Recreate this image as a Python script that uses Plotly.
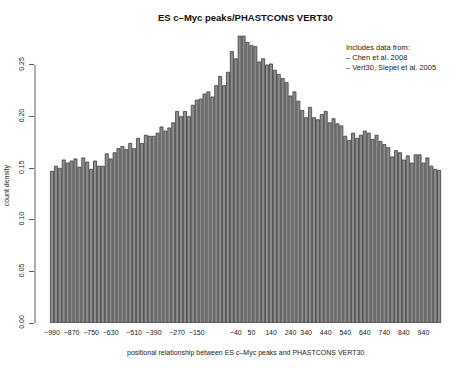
import plotly.graph_objects as go

# ---- data -------------------------------------------------------------
density = [
    0.147, 0.152, 0.150, 0.158, 0.155, 0.157, 0.159, 0.151, 0.160, 0.156,
    0.149, 0.157, 0.152, 0.152, 0.164, 0.159, 0.165, 0.169, 0.171, 0.168,
    0.174, 0.169, 0.179, 0.174, 0.182, 0.181, 0.181, 0.184, 0.190, 0.186,
    0.189, 0.194, 0.205, 0.200, 0.205, 0.200, 0.211, 0.216, 0.217, 0.222,
    0.224, 0.219, 0.230, 0.239, 0.230, 0.243, 0.263, 0.256, 0.278, 0.278,
    0.272, 0.269, 0.268, 0.253, 0.256, 0.250, 0.251, 0.245, 0.241, 0.237,
    0.233, 0.220, 0.224, 0.215, 0.206, 0.199, 0.209, 0.199, 0.197, 0.202,
    0.205, 0.194, 0.198, 0.193, 0.191, 0.181, 0.177, 0.184, 0.179, 0.182,
    0.186, 0.184, 0.178, 0.182, 0.176, 0.173, 0.170, 0.161, 0.167, 0.165,
    0.158, 0.162, 0.155, 0.163, 0.163, 0.155, 0.160, 0.152, 0.149, 0.148,
]
bar_index = list(range(len(density)))

tick_positions = [0, 5, 10, 15, 21, 26, 32, 37, 47, 51, 56, 61, 65, 70, 75, 80, 85, 90, 95]
tick_labels = ["−990", "−870", "−750", "−630", "−510", "−390", "−270", "−150", "−40",
               "50", "140", "240", "340", "440", "540", "640", "740", "840", "940"]

y_ticks = [0.00, 0.05, 0.10, 0.15, 0.20, 0.25]
y_tick_labels = ["0.00", "0.05", "0.10", "0.15", "0.20", "0.25"]

title_text = "ES c–Myc peaks/PHASTCONS VERT30"
x_title = "positional relationship between ES c–Myc peaks and PHASTCONS VERT30"
y_title = "count density"
note_lines = ["Includes data from:", "– Chen et al. 2008", "– Vert30, Siepel et al. 2005"]

# ---- figure -----------------------------------------------------------
FONT = "Liberation Sans, Arial, sans-serif"
TXT = "#222222"

fig = go.Figure(
    go.Bar(
        x=bar_index,
        y=density,
        marker=dict(color="#8c8c8c", line=dict(color="#2e2e2e", width=0.7)),
        width=0.8,
        hoverinfo="skip",
    )
)

fig.update_layout(
    width=474,
    height=368,
    margin=dict(l=35, r=22, t=30, b=45, pad=0, autoexpand=False),
    paper_bgcolor="white",
    plot_bgcolor="white",
    showlegend=False,
    font=dict(family=FONT, size=7, color=TXT),
    xaxis=dict(
        range=[-4.35, 102.3],
        tickmode="array",
        tickvals=tick_positions,
        ticktext=tick_labels,
        ticks="",
        showgrid=False,
        zeroline=False,
        showline=False,
        automargin=False,
        tickfont=dict(size=7, color=TXT),
        ticklabelstandoff=4,
    ),
    yaxis=dict(
        range=[0, 0.2839],
        tickmode="array",
        tickvals=y_ticks,
        ticktext=y_tick_labels,
        ticks="outside",
        ticklen=5,
        tickwidth=0.8,
        tickcolor="#333333",
        tickangle=-90,
        showgrid=False,
        zeroline=False,
        showline=False,
        automargin=False,
        tickfont=dict(size=7, color=TXT),
        ticklabelstandoff=2,
    ),
    shapes=[
        dict(type="line", xref="paper", yref="y", x0=0, x1=0,
             y0=y_ticks[0], y1=y_ticks[-1],
             line=dict(color="#333333", width=0.8)),
    ],
    annotations=[
        dict(text="<b>" + title_text + "</b>", xref="paper", yref="paper",
             x=0.505, y=1, yshift=13, xanchor="center", yanchor="middle",
             showarrow=False, font=dict(size=9.5, color="#111111", family=FONT)),
        dict(text=x_title, xref="paper", yref="paper", x=0.505, y=0,
             yshift=-30, xanchor="center", yanchor="middle",
             showarrow=False, font=dict(size=7, color=TXT, family=FONT)),
        dict(text=y_title, xref="paper", yref="paper", x=0, y=0.47,
             xshift=-28, xanchor="center", yanchor="middle", textangle=-90,
             showarrow=False, font=dict(size=7, color=TXT, family=FONT)),
        dict(text="<br>".join(note_lines), xref="paper", yref="paper",
             x=0.741, y=0.964, xanchor="left", yanchor="top", align="left",
             showarrow=False, font=dict(size=7.5, color=TXT, family=FONT)),
    ],
)

# remove the default 8px page margin so the figure sits at the window's corner
fig.write_html(
    "out.html",
    config={"displayModeBar": False, "staticPlot": True},
    post_script="document.body.style.margin='0px';",
)
